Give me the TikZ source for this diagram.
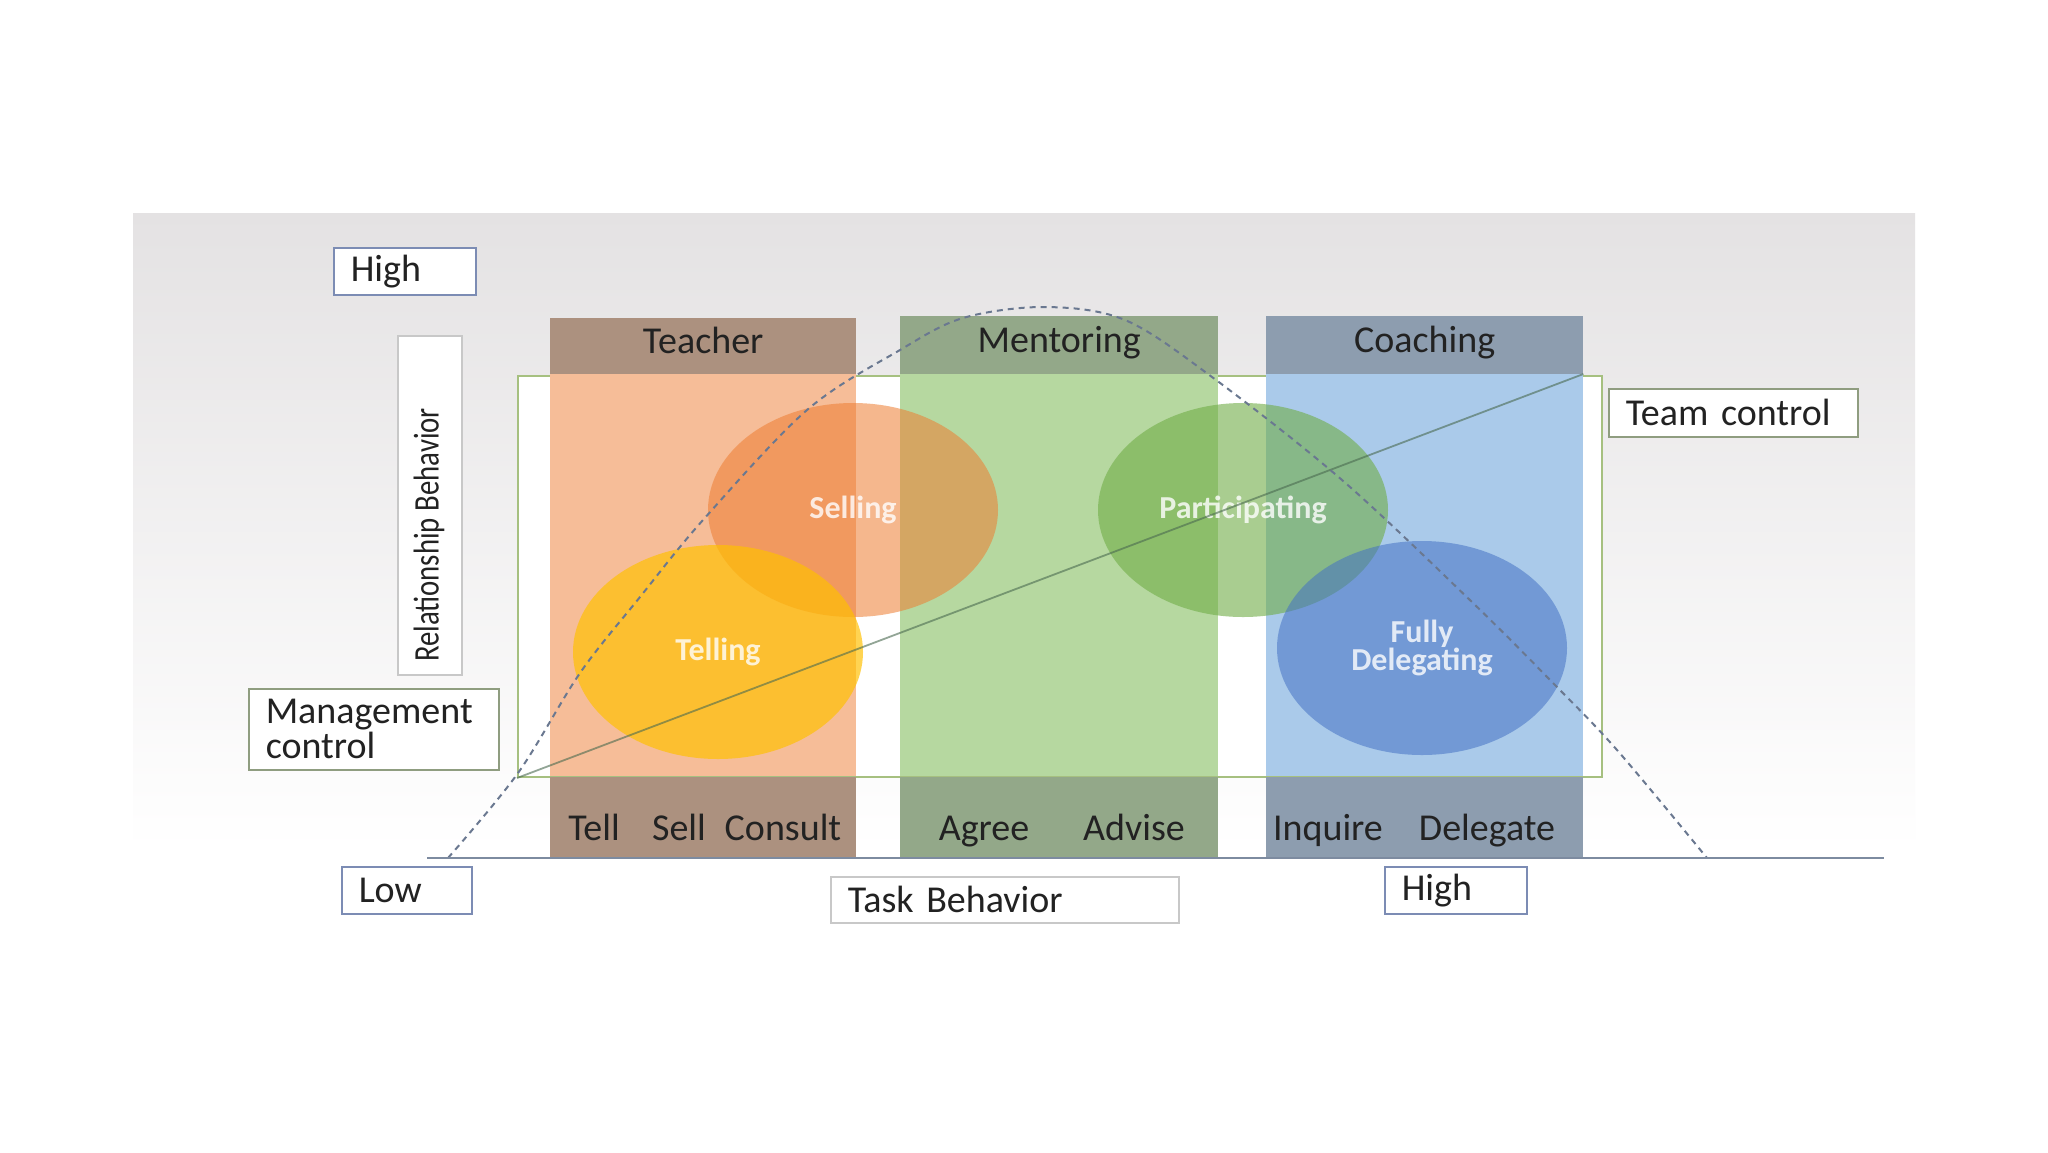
\documentclass[tikz,border=0pt]{standalone}
\usepackage{fontspec}
\setmainfont{Carlito}
\usetikzlibrary{shapes.geometric}

\definecolor{ink}{HTML}{222222}
\definecolor{panel}{HTML}{E4E2E3}
\definecolor{teachtop}{HTML}{AC917F}
\definecolor{teachbody}{HTML}{F6BD98}
\definecolor{mentortop}{HTML}{93A889}
\definecolor{mentorbody}{HTML}{B6D8A0}
\definecolor{coachtop}{HTML}{8D9DAF}
\definecolor{coachbody}{HTML}{AACAEA}
\definecolor{sellcol}{HTML}{ED7D31}
\definecolor{tellcol}{HTML}{FFC000}
\definecolor{partcol}{HTML}{70AD47}
\definecolor{delegcol}{HTML}{4472C4}
\definecolor{framecol}{HTML}{A6C080}
\definecolor{bluegray}{HTML}{7C8CB4}
\definecolor{greenline}{HTML}{8F9D80}
\definecolor{lightline}{HTML}{C8C8C8}
\definecolor{bellcol}{HTML}{6A7890}
\definecolor{axiscol}{HTML}{7D8BA0}
\definecolor{diagcol}{HTML}{4A6A50}

\begin{document}
\begin{tikzpicture}[x=1pt, y=-1pt,
	lbl/.style={ font=\fontsize{38}{40}\selectfont, text=ink },
	body/.style={ rectangle, inner sep=0pt, minimum height=402pt, anchor=north west },
	band/.style={ rectangle, inner sep=0pt, text height=24pt, text depth=8pt, lbl },
	blob/.style={ ellipse, inner sep=0pt, minimum width=290pt, minimum height=214pt, fill opacity=.6, text opacity=.8, text=white, font=\bfseries\fontsize{32}{28}\selectfont, align=center },
	tag/.style={ rectangle, draw, fill=white, line width=1.5pt, inner xsep=17pt, inner ysep=0pt, anchor=north west, align=left, lbl }
]
\useasboundingbox (0,0) rectangle (2048,1152);
\fill[white] (0,0) rectangle (2048,1152);
\shade[top color=panel, bottom color=white] (133,213) rectangle (1915,850);

% frame
\node at (517,375) (frame) [rectangle, draw=framecol, fill=white, line width=2pt, minimum width=1084pt, minimum height=401pt, anchor=north west] {};

% columns
\node at (550,374) (tbody) [body, fill=teachbody, minimum width=306pt] {};
\node at (900,374) (mbody) [body, fill=mentorbody, minimum width=318pt] {};
\node at (1266,374) (cbody) [body, fill=coachbody, minimum width=317pt] {};

\node (teacher) [band, fill=teachtop, minimum width=306pt, minimum height=56pt, anchor=south west] at (tbody.north west) {Teacher};
\node (mentoring) [band, fill=mentortop, minimum width=318pt, minimum height=58pt, anchor=south west] at (mbody.north west) {Mentoring};
\node (coaching) [band, fill=coachtop, minimum width=317pt, minimum height=58pt, anchor=south west] at (cbody.north west) {Coaching};

\node (tfoot) [band, fill=teachtop, minimum width=306pt, minimum height=82pt, anchor=north west] at (tbody.south west) {};
\node (mfoot) [band, fill=mentortop, minimum width=318pt, minimum height=82pt, anchor=north west] at (mbody.south west) {};
\node (cfoot) [band, fill=coachtop, minimum width=317pt, minimum height=82pt, anchor=north west] at (cbody.south west) {};

\node at (594,840) (tell) [lbl, anchor=base] {Tell};
\node at (679,840) (sell) [lbl, anchor=base] {Sell};
\node at (783,840) (consult) [lbl, anchor=base] {Consult};
\node at (984,840) (agree) [lbl, anchor=base] {Agree};
\node at (1134,840) (advise) [lbl, anchor=base] {Advise};
\node at (1328,840) (inquire) [lbl, anchor=base] {Inquire};
\node at (1487,840) (delegate) [lbl, anchor=base] {Delegate};

% styles
\node at (853,510) (selling) [blob, fill=sellcol, fill opacity=.55] {Selling};
\node at (718,652) (telling) [blob, fill=tellcol, fill opacity=.68] {Telling};
\node at (1243,510) (participating) [blob, fill=partcol] {Participating};
\node at (1422,648) (fullydel) [blob, fill=delegcol, fill opacity=.55] {Fully\\Delegating};

\draw[diagcol, draw opacity=.6, line width=1.8pt] (frame.south west) -- (cbody.north east);

\draw[bellcol, line width=2pt, dash pattern=on 6pt off 5pt] plot[smooth, tension=.55] coordinates {
	(448,858) (518,773) (580,673) (640,597) (703,520) (807,410) (900,350) (963,318) (1045,307)
	(1125,320) (1212,377) (1342,480) (1473,603) (1553,683) (1617,750) (1707,858) };

\coordinate (lo) at (427,858);
\coordinate (hi) at (1884,858);
\draw[axiscol, line width=2.5pt] (lo) -- (hi);

% labels
\node at (333,247) (hightop) [tag, draw=bluegray, text width=108pt, minimum height=47pt] {High};
\node at (341,866) (low) [tag, draw=bluegray, text width=96pt, minimum height=47pt] {Low};
\node at (830,876) (task) [tag, draw=lightline, text width=314pt, minimum height=46pt] {Task Behavior};
\node at (1384,866) (highbot) [tag, draw=bluegray, text width=108pt, minimum height=47pt] {High};
\node at (1608,388) (team) [tag, draw=greenline, text width=215pt, minimum height=48pt] {Team control};
\node at (248,688) (mgmt) [tag, draw=greenline, text width=216pt, minimum height=81pt, font=\fontsize{38}{35}\selectfont] {Management\\control};

\node at (397,335) (relbox) [rectangle, draw=lightline, fill=white, line width=1.5pt, minimum width=64pt, minimum height=339pt, anchor=north west] {};
\node at (429,535) (reltext) [lbl, rotate=90, xscale=.8, font=\fontsize{36}{40}\selectfont] {Relationship Behavior};

\end{tikzpicture}
\end{document}
